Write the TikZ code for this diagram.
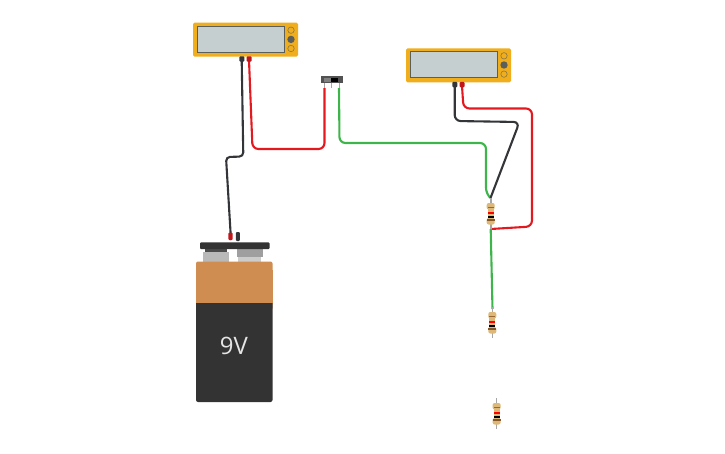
\documentclass[tikz,border=0pt]{standalone}
\usepackage{fontspec}
\setsansfont{Open Sans}
\definecolor{meteryellow}{HTML}{F0AE1D}
\definecolor{meterscreen}{HTML}{C6CFD0}
\definecolor{meteredge}{HTML}{5A5F5C}
\definecolor{batorange}{HTML}{D08D52}
\definecolor{batdark}{HTML}{333333}
\definecolor{wirered}{HTML}{E3191F}
\definecolor{wireblack}{HTML}{333538}
\definecolor{wiregreen}{HTML}{3DB54A}
\definecolor{restan}{HTML}{DDB878}
\tikzset{
    wire/.style={line width=2.1pt, rounded corners=6pt},
    lead/.style={line width=1.6pt, color=gray!70},
}

\begin{document}
\begin{tikzpicture}[x=1pt, y=-1pt]
        \useasboundingbox (0, 0) rectangle (725, 453);

        % terminals
        \coordinate (meterAblack) at (241.7, 60);
        \coordinate (meterAred) at (249, 60);
        \coordinate (meterBblack) at (454.7, 86);
        \coordinate (meterBred) at (462, 86);
        \coordinate (switchL) at (324.5, 88);
        \coordinate (switchR) at (339, 88);
        \coordinate (batRed) at (231, 240);
        \coordinate (resAtop) at (490.5, 198);
        \coordinate (resAbot) at (490.7, 229);
        \coordinate (resBtop) at (492.5, 309);

        % wires
        \draw[wire, wireblack, rounded corners=4pt] (meterAblack) -- (243.3, 156.5) -- (226, 157) -- (batRed);
        \draw[wire, wirered] (meterAred) -- (252.5, 149) -- (324.5, 149) -- (switchL);
        \draw[wire, wiregreen] (switchR) -- (339.5, 143) -- (486, 143) -- (486, 194) -- (resAtop);
        \draw[wire, wireblack] (meterBblack) -- (454.7, 121) -- (519.5, 122) -- (resAtop);
        \draw[wire, wirered] (meterBred) -- (463.5, 108.5) -- (532, 108.5) -- (532, 226.5) -- (resAbot);
        \draw[line width=2.1pt, wiregreen] (resAbot) -- (resBtop);

        % multimeters
        \foreach \x/\y in {193/22.7, 406/48.3} {
            \fill[meteryellow, rounded corners=1.5pt] (\x, \y) rectangle ++(105, 34);
            \draw[meteredge, fill=meterscreen, line width=1pt] (\x+4, \y+3.5) rectangle ++(87.5, 26);
            \foreach \b in {7.5, 25.8} {
                \draw[meteredge!70!meteryellow, line width=.6pt] (\x+98, \y+\b) circle (3.2);
            }
            \fill[meteredge] (\x+98, \y+16.7) circle (3.7);
            \fill[wireblack, rounded corners=1pt] (\x+46.3, \y+33.6) rectangle ++(5, 5.4);
            \fill[wirered!85!black, rounded corners=1pt] (\x+53.6, \y+33.6) rectangle ++(5, 5.4);
        }

        % switch
        \foreach \x in {324.5, 331.5, 339} {
            \draw[gray!70, line width=1pt] (\x, 83) -- (\x, 88);
        }
        \fill[batdark!85] (321, 76) rectangle (342.5, 83);
        \fill[gray] (324, 77.5) rectangle (331, 81.5);
        \fill[black] (331, 77.5) rectangle (338, 81.5);

        % battery
        \fill[gray!60!black] (205, 249) rectangle (227, 253);
        \fill[gray!55] (203, 252) rectangle (229, 262);
        \fill[gray!75] (236.5, 249) rectangle (263, 257);
        \fill[gray!40] (238, 257) rectangle (261, 262);
        \fill[batdark, rounded corners=1pt] (200, 242.3) rectangle (269.5, 249);
        \fill[wirered!85!black, rounded corners=1pt] (228.3, 232.5) rectangle (232.7, 240);
        \fill[wireblack, rounded corners=1pt] (235.8, 232) rectangle (239.8, 241);
        \fill[batorange, rounded corners=2pt] (196, 261.5) rectangle (272.5, 310);
        \fill[batdark, rounded corners=2pt] (196, 296) rectangle (272.5, 402);
        \fill[batorange] (196, 270) rectangle (272.5, 303);
        \node[text=white!90!black, font=\sffamily\fontsize{24}{24}\selectfont] (batLabel) at (234, 346) {9V};

        % resistors
        \foreach \x/\y in {490.7/214, 492.3/323, 496.6/414} {
            \draw[lead] (\x, \y-16) -- (\x, \y+15);
            \fill[restan, rounded corners=2pt] (\x-4, \y-11) rectangle (\x+4, \y-4.5);
            \fill[restan] (\x-3.1, \y-6) rectangle (\x+3.1, \y+6);
            \fill[restan, rounded corners=2pt] (\x-4, \y+4) rectangle (\x+4, \y+10.5);
            \fill[brown!80!black] (\x-3.1, \y-7) rectangle (\x+3.1, \y-6.2);
            \fill[red] (\x-3.1, \y-2.2) rectangle (\x+3.1, \y-.2);
            \fill[black] (\x-3.1, \y+1.7) rectangle (\x+3.1, \y+3.7);
            \fill[brown!70!black] (\x-4, \y+5) rectangle (\x+4, \y+7.2);
        }
\end{tikzpicture}
\end{document}
